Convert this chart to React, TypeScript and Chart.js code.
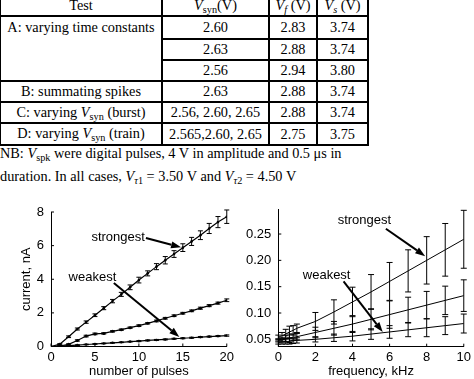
import React, { useEffect, useRef } from "react";
import { Chart, registerables } from "chart.js";
Chart.register(...registerables);

// ---------- table data ----------
const tableVsyn = ["2.60", "2.63", "2.56", "2.63", "2.56, 2.60, 2.65", "2.565,2.60, 2.65"];
const tableVf = ["2.83", "2.88", "2.94", "2.88", "2.88", "2.75"];
const tableVs = ["3.74", "3.74", "3.80", "3.74", "3.74", "3.75"];

// ---------- left chart data ----------
const pulseCounts = [0, 1, 2, 3, 4, 5, 6, 7, 8, 9, 10, 11, 12, 13, 14, 15, 16, 17, 18, 19, 20];
const strongestPulse = [0, 0.14, 0.58, 1.04, 1.45, 1.86, 2.28, 2.7, 3.1, 3.52, 3.95, 4.35, 4.75, 5.13, 5.5, 5.88, 6.25, 6.62, 7.02, 7.4, 7.72];
const strongestPulseErr = [0, 0.03, 0.05, 0.06, 0.07, 0.08, 0.09, 0.1, 0.12, 0.14, 0.17, 0.15, 0.18, 0.22, 0.2, 0.23, 0.24, 0.26, 0.3, 0.33, 0.4];
const middlePulse = [0, 0.03, 0.13, 0.36, 0.62, 0.75, 0.78, 0.9, 1.0, 1.12, 1.24, 1.38, 1.52, 1.68, 1.83, 1.98, 2.12, 2.28, 2.43, 2.58, 2.75];
const middlePulseErr = [0, 0.02, 0.03, 0.04, 0.05, 0.05, 0.04, 0.04, 0.04, 0.04, 0.05, 0.04, 0.05, 0.05, 0.05, 0.05, 0.05, 0.06, 0.06, 0.06, 0.08];
const weakestPulse = [0, 0.02, 0.05, 0.08, 0.12, 0.15, 0.18, 0.22, 0.25, 0.29, 0.32, 0.36, 0.39, 0.42, 0.46, 0.49, 0.52, 0.56, 0.59, 0.62, 0.65];
const weakestPulseErr = [0, 0.01, 0.01, 0.02, 0.02, 0.02, 0.02, 0.02, 0.02, 0.02, 0.03, 0.03, 0.03, 0.03, 0.03, 0.03, 0.03, 0.03, 0.03, 0.03, 0.04];
const pulseTicks = [0, 5, 10, 15, 20];
const currentTicks = [0, 2, 4, 6, 8];

// ---------- right chart data ----------
const freqKHz = [0, 0.2, 0.4, 0.6, 0.8, 1, 2, 3, 4, 5, 6, 7, 8, 9, 10];
const strongestFreq = [0.054, 0.057, 0.06, 0.064, 0.067, 0.071, 0.084, 0.102, 0.121, 0.14, 0.16, 0.18, 0.2, 0.22, 0.24];
const strongestFreqErr = [0.004, 0.006, 0.009, 0.011, 0.009, 0.008, 0.017, 0.023, 0.028, 0.033, 0.036, 0.04, 0.045, 0.05, 0.055];
const middleFreq = [0.048, 0.049, 0.051, 0.052, 0.054, 0.055, 0.063, 0.071, 0.079, 0.088, 0.097, 0.106, 0.115, 0.124, 0.133];
const middleFreqErr = [0.003, 0.004, 0.006, 0.008, 0.006, 0.006, 0.01, 0.013, 0.016, 0.02, 0.026, 0.024, 0.026, 0.027, 0.03];
const weakestFreq = [0.044, 0.045, 0.046, 0.046, 0.047, 0.048, 0.05, 0.053, 0.056, 0.06, 0.064, 0.068, 0.072, 0.076, 0.08];
const weakestFreqErr = [0.003, 0.004, 0.005, 0.005, 0.005, 0.005, 0.005, 0.007, 0.009, 0.01, 0.012, 0.013, 0.017, 0.017, 0.018];
const freqTicks = [0, 2, 4, 6, 8, 10];
const freqCurrentTicks = [0.05, 0.1, 0.15, 0.2, 0.25];

const SANS = "'Liberation Sans', Arial, sans-serif";
const SERIF = "'Liberation Serif', 'Times New Roman', serif";

type Note = { text: string; tx: number; ty: number; x0: number; y0: number; x1: number; y1: number };

const pulseNotes: Note[] = [
  { text: "strongest", tx: 4.6, ty: 6.5, x0: 10.8, y0: 6.45, x1: 14.8, y1: 5.9 },
  { text: "weakest", tx: 2.0, ty: 4.08, x0: 7.15, y0: 3.78, x1: 14.6, y1: 0.57 },
];
const freqNotes: Note[] = [
  { text: "strongest", tx: 3.2, ty: 0.275, x0: 5.8, y0: 0.26, x1: 7.92, y1: 0.208 },
  { text: "weakest", tx: 1.32, ty: 0.172, x0: 3.52, y0: 0.16, x1: 5.63, y1: 0.064 },
];

function makeOverlayPlugin(notes: Note[], capHalf: number) {
  return {
    id: "overlay",
    afterDatasetsDraw(chart: any) {
      const ctx = chart.ctx;
      const xs = chart.scales.x;
      const ys = chart.scales.y;
      ctx.save();
      ctx.strokeStyle = "#000";
      ctx.fillStyle = "#000";
      ctx.lineWidth = 1;
      // error bars
      chart.data.datasets.forEach((ds: any) => {
        const errs: number[] = ds.errors;
        if (!errs) return;
        ds.data.forEach((pt: any, i: number) => {
          const e = errs[i];
          if (!e) return;
          const px = xs.getPixelForValue(pt.x);
          const top = ys.getPixelForValue(pt.y + e);
          const bot = ys.getPixelForValue(pt.y - e);
          ctx.beginPath();
          ctx.moveTo(px, top);
          ctx.lineTo(px, bot);
          ctx.moveTo(px - capHalf, top);
          ctx.lineTo(px + capHalf, top);
          ctx.moveTo(px - capHalf, bot);
          ctx.lineTo(px + capHalf, bot);
          ctx.stroke();
        });
      });
      // inward ticks
      const ca = chart.chartArea;
      ctx.beginPath();
      xs.ticks.forEach((t: any) => {
        const p = xs.getPixelForValue(t.value);
        ctx.moveTo(p, ca.bottom);
        ctx.lineTo(p, ca.bottom - 3);
      });
      ys.ticks.forEach((t: any) => {
        const p = ys.getPixelForValue(t.value);
        ctx.moveTo(ca.left, p);
        ctx.lineTo(ca.left + 3, p);
      });
      ctx.stroke();
      // annotations
      ctx.font = `13px ${SANS}`;
      ctx.textAlign = "left";
      ctx.textBaseline = "middle";
      notes.forEach((n) => {
        ctx.fillText(n.text, xs.getPixelForValue(n.tx), ys.getPixelForValue(n.ty));
        const x0 = xs.getPixelForValue(n.x0);
        const y0 = ys.getPixelForValue(n.y0);
        const x1 = xs.getPixelForValue(n.x1);
        const y1 = ys.getPixelForValue(n.y1);
        const ang = Math.atan2(y1 - y0, x1 - x0);
        const head = 10;
        const hw = 3.5;
        const bx = x1 - head * Math.cos(ang);
        const by = y1 - head * Math.sin(ang);
        ctx.lineWidth = 2;
        ctx.beginPath();
        ctx.moveTo(x0, y0);
        ctx.lineTo(bx, by);
        ctx.stroke();
        ctx.beginPath();
        ctx.moveTo(x1, y1);
        ctx.lineTo(bx + hw * Math.sin(ang), by - hw * Math.cos(ang));
        ctx.lineTo(bx - hw * Math.sin(ang), by + hw * Math.cos(ang));
        ctx.closePath();
        ctx.fill();
      });
      ctx.restore();
    },
  };
}

function series(xs: number[], ys: number[], errs: number[], width: number, radius: number) {
  return {
    data: xs.map((x, i) => ({ x, y: ys[i] })),
    errors: errs,
    borderColor: "#000",
    backgroundColor: "#000",
    borderWidth: width,
    pointRadius: radius,
    pointBorderWidth: 0,
    fill: false,
    tension: 0,
  };
}

function axis(min: number, max: number, tickValues: number[], title: string | null, fit: (s: any) => void, pad: number, fmt: (v: number) => string) {
  return {
    type: "linear" as const,
    min,
    max,
    afterBuildTicks: (s: any) => {
      s.ticks = tickValues.map((v) => ({ value: v }));
    },
    afterFit: fit,
    grid: { drawOnChartArea: false, drawTicks: false },
    border: { color: "#000", width: 1 },
    ticks: {
      color: "#000",
      font: { family: SANS, size: 13 },
      padding: pad,
      autoSkip: false,
      maxRotation: 0,
      callback: (v: any) => fmt(Number(v)),
    },
    title: title
      ? { display: true, text: title, color: "#000", font: { family: SANS, size: 13 }, padding: { top: 0, bottom: 0 } }
      : { display: false },
  };
}

function PulseChart() {
  const ref = useRef<HTMLCanvasElement>(null);
  useEffect(() => {
    const chart = new Chart(ref.current as HTMLCanvasElement, {
      type: "line",
      data: {
        datasets: [
          series(pulseCounts, strongestPulse, strongestPulseErr, 1.2, 1.3) as any,
          series(pulseCounts, middlePulse, middlePulseErr, 1.2, 1.5) as any,
          series(pulseCounts, weakestPulse, weakestPulseErr, 1.2, 1.3) as any,
        ],
      },
      options: {
        animation: false,
        responsive: false,
        maintainAspectRatio: false,
        layout: { padding: { left: 19, right: 7, top: 17, bottom: 0 } },
        plugins: { legend: { display: false }, tooltip: { enabled: false } },
        scales: {
          x: axis(0, 20, pulseTicks, "number of pulses", (s: any) => { s.height = 32.5; }, 3, (v) => String(v)) as any,
          y: axis(0, 8, currentTicks, "current, nA", (s: any) => { s.width = 32; }, 7, (v) => String(v)) as any,
        },
      },
      plugins: [makeOverlayPlugin(pulseNotes, 2.5)],
    });
    return () => chart.destroy();
  }, []);
  return <canvas ref={ref} width={237} height={184} style={{ position: "absolute", left: 0, top: 195, width: 237, height: 184 }} />;
}

function FreqChart() {
  const ref = useRef<HTMLCanvasElement>(null);
  useEffect(() => {
    const chart = new Chart(ref.current as HTMLCanvasElement, {
      type: "line",
      data: {
        datasets: [
          series(freqKHz, strongestFreq, strongestFreqErr, 1, 0) as any,
          series(freqKHz, middleFreq, middleFreqErr, 1, 0) as any,
          series(freqKHz, weakestFreq, weakestFreqErr, 1, 0) as any,
        ],
      },
      options: {
        animation: false,
        responsive: false,
        maintainAspectRatio: false,
        layout: { padding: { left: 0, right: 6.2, top: 11.7, bottom: 0 } },
        plugins: { legend: { display: false }, tooltip: { enabled: false } },
        scales: {
          x: axis(0, 10, freqTicks, "frequency, kHz", (s: any) => { s.height = 32.3; }, 3, (v) => String(v)) as any,
          y: axis(0.036, 0.296, freqCurrentTicks, null, (s: any) => { s.width = 41.3; }, 7, (v) => v.toFixed(2)) as any,
        },
      },
      plugins: [makeOverlayPlugin(freqNotes, 3)],
    });
    return () => chart.destroy();
  }, []);
  return <canvas ref={ref} width={237} height={184} style={{ position: "absolute", left: 237, top: 195, width: 237, height: 184 }} />;
}

const cell: React.CSSProperties = {
  border: "2px solid #000",
  padding: 0,
  textAlign: "center",
  verticalAlign: "middle",
  whiteSpace: "nowrap",
};

const Vsyn = () => (
  <span>
    <i>V</i>
    <sub style={{ fontSize: "0.72em", verticalAlign: "-0.25em" }}>syn</sub>
  </span>
);

export default function App() {
  const rowHeights = [23, 21, 21, 21, 21, 22];
  return (
    <div style={{ position: "absolute", left: 0, top: 0, width: 474, height: 379, overflow: "hidden", background: "#fff" }}>
      <table
        style={{
          position: "absolute",
          left: -1,
          top: -6,
          borderCollapse: "collapse",
          tableLayout: "fixed",
          width: 368,
          fontFamily: SERIF,
          fontSize: "14.3px",
          color: "#000",
        }}
      >
        <colgroup>
          <col style={{ width: 162 }} />
          <col style={{ width: 107 }} />
          <col style={{ width: 48 }} />
          <col style={{ width: 51 }} />
        </colgroup>
        <tbody>
          <tr style={{ height: 21 }}>
            <td style={cell}>Test</td>
            <td style={cell}>
              <Vsyn />(V)
            </td>
            <td style={cell}>
              <i>V</i>
              <sub style={{ fontSize: "0.72em", verticalAlign: "-0.25em" }}>
                <i>f</i>
              </sub>{" "}
              (V)
            </td>
            <td style={cell}>
              <i>V</i>
              <sub style={{ fontSize: "0.72em", verticalAlign: "-0.25em" }}>
                <i>s</i>
              </sub>{" "}
              (V)
            </td>
          </tr>
          {tableVsyn.map((v, i) => (
            <tr key={i} style={{ height: rowHeights[i] }}>
              {i === 0 && (
                <td style={{ ...cell, verticalAlign: "top", paddingTop: 2 }} rowSpan={3}>
                  A: varying time constants
                </td>
              )}
              {i === 3 && <td style={cell}>B: summating spikes</td>}
              {i === 4 && (
                <td style={cell}>
                  C: varying <Vsyn /> (burst)
                </td>
              )}
              {i === 5 && (
                <td style={cell}>
                  D: varying <Vsyn /> (train)
                </td>
              )}
              <td style={cell}>{v}</td>
              <td style={cell}>{tableVf[i]}</td>
              <td style={cell}>{tableVs[i]}</td>
            </tr>
          ))}
        </tbody>
      </table>
      <div
        style={{
          position: "absolute",
          left: 0,
          top: 144,
          fontFamily: SERIF,
          fontSize: "14.3px",
          lineHeight: "19px",
          color: "#000",
          whiteSpace: "nowrap",
        }}
      >
        <div>
          NB: <i>V</i>
          <sub style={{ fontSize: "0.72em", verticalAlign: "-0.25em" }}>spk</sub> were digital pulses, 4 V in amplitude and 0.5 μs in
        </div>
        <div>
          duration. In all cases, <i>V</i>
          <sub style={{ fontSize: "0.72em", verticalAlign: "-0.25em" }}>
            <i>τ</i>1
          </sub>{" "}
          = 3.50 V and <i>V</i>
          <sub style={{ fontSize: "0.72em", verticalAlign: "-0.25em" }}>
            <i>τ</i>2
          </sub>{" "}
          = 4.50 V
        </div>
      </div>
      <PulseChart />
      <FreqChart />
    </div>
  );
}
